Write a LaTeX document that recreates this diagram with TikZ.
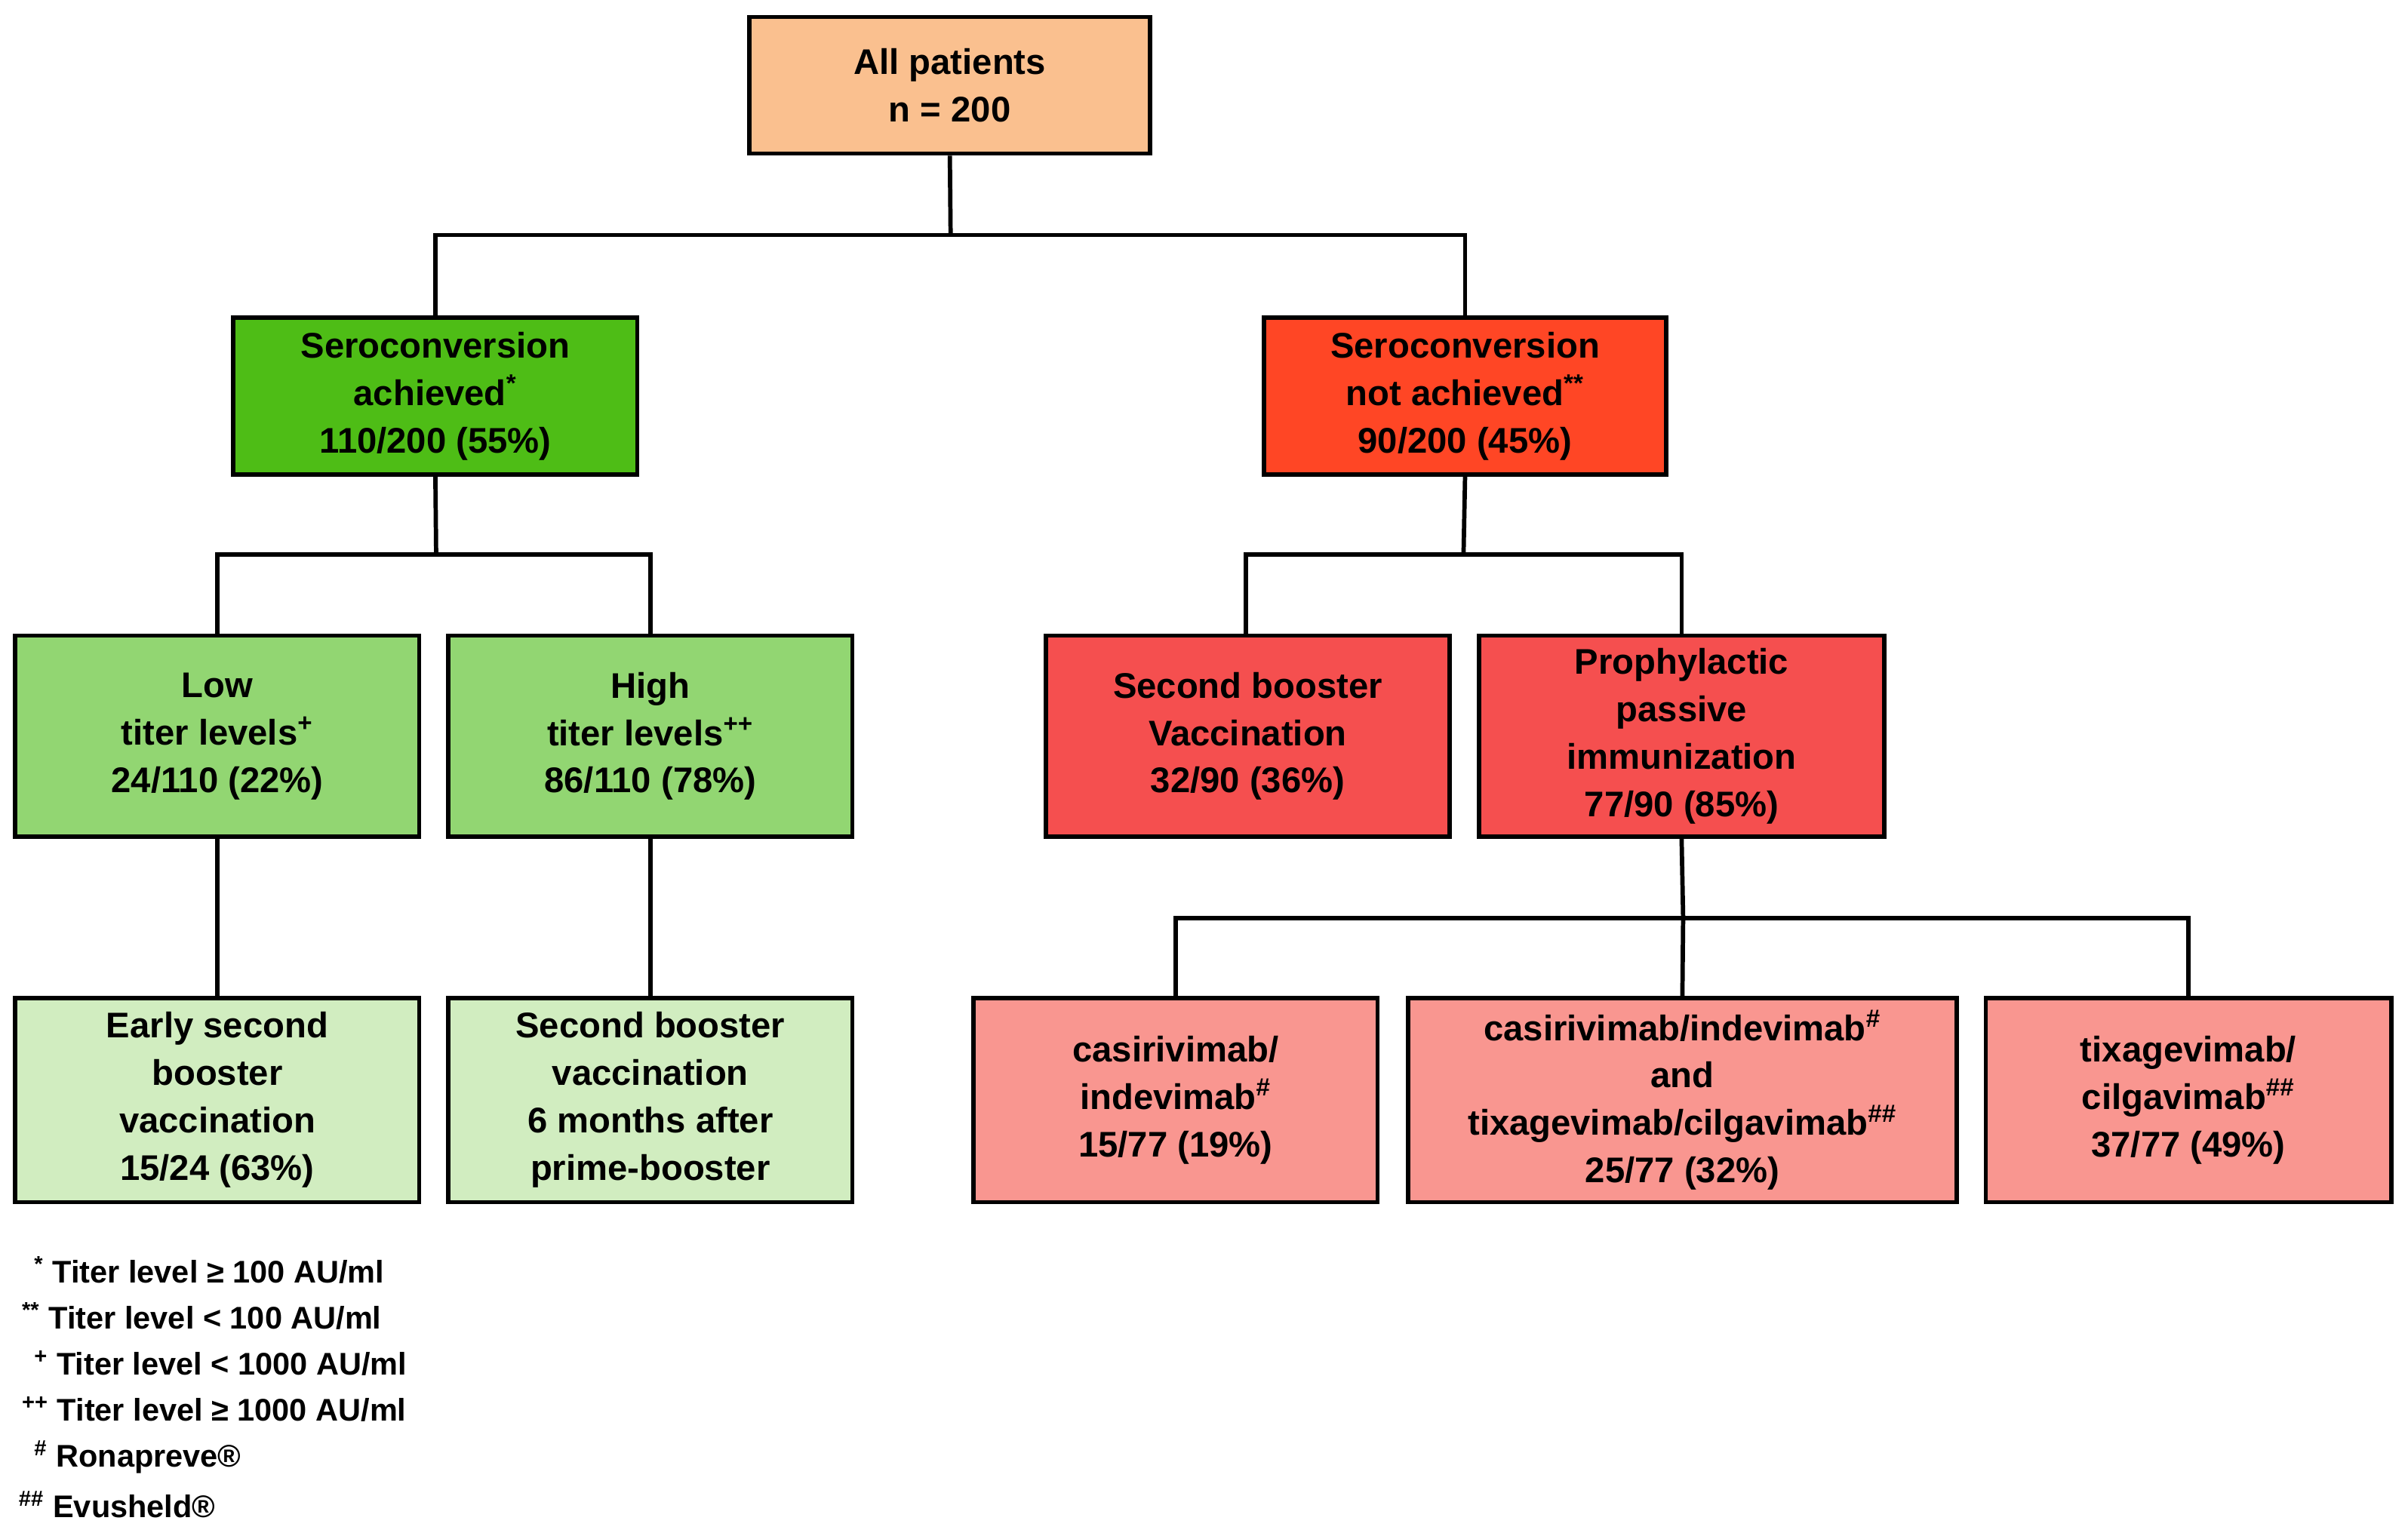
\documentclass[tikz,border=0pt]{standalone}
\usepackage{fontspec}
\setmainfont{Liberation Sans}
\begin{document}
\begin{tikzpicture}[x=0.025cm,y=-0.025cm,
  box/.style={draw=black,line width=2pt,align=center,inner sep=0pt,font=\fontsize{16.5}{22}\selectfont\bfseries},
  ln/.style={line width=2pt},
  fn/.style={anchor=west,inner sep=0pt,font=\fontsize{14.5}{17}\selectfont\bfseries}]
\useasboundingbox (0,0) rectangle (1568,1000);
\definecolor{peach}{HTML}{FAC08F}
\definecolor{gA}{HTML}{4EBD16}
\definecolor{rA}{HTML}{FF4625}
\definecolor{gB}{HTML}{92D672}
\definecolor{rB}{HTML}{F54F4F}
\definecolor{gC}{HTML}{D1EDC0}
\definecolor{rC}{HTML}{F99690}
\newcommand{\bx}[6]{\node[box,fill=#6,minimum width={(#3-#2)*0.025cm},minimum height={(#5-#4)*0.025cm}] (#1) at ({(#2+#3)/2},{(#4+#5)/2})}
\bx{all}{488}{749}{11}{100}{peach} {All patients\\n = 200};
\bx{sa}{152}{415}{207}{309}{gA} {Seroconversion\\achieved\textsuperscript{*}\\110/200 (55\%)};
\bx{sn}{823}{1085}{207}{309}{rA} {Seroconversion\\not achieved\textsuperscript{**}\\90/200 (45\%)};
\bx{low}{10}{273}{414}{545}{gB} {Low\\titer levels\textsuperscript{+}\\24/110 (22\%)};
\bx{high}{292}{555}{414}{545}{gB} {High\\titer levels\textsuperscript{++}\\86/110 (78\%)};
\bx{sb}{681}{944}{414}{545}{rB} {Second booster\\Vaccination\\32/90 (36\%)};
\bx{pp}{963}{1227}{414}{545}{rB} {Prophylactic\\passive\\immunization\\77/90 (85\%)};
\bx{early}{10}{273}{650}{783}{gC} {Early second\\booster\\vaccination\\15/24 (63\%)};
\bx{six}{292}{555}{650}{783}{gC} {Second booster\\vaccination\\6 months after\\prime-booster};
\bx{ci}{634}{897}{650}{783}{rC} {casirivimab/\\indevimab\textsuperscript{\#}\\15/77 (19\%)};
\bx{both}{917}{1274}{650}{783}{rC} {casirivimab/indevimab\textsuperscript{\#}\\and\\tixagevimab/cilgavimab\textsuperscript{\#\#}\\25/77 (32\%)};
\bx{tc}{1293}{1557}{650}{783}{rC} {tixagevimab/\\cilgavimab\textsuperscript{\#\#}\\37/77 (49\%)};
\coordinate (j1) at (619,153);
\coordinate (j2) at (284,361);
\coordinate (j3) at (953,361);
\coordinate (j4) at (1096,598);
\draw[ln] (all.south) -- (j1);
\draw[ln] (j1) -| (sa.north);
\draw[ln] (j1) -| (sn.north);
\draw[ln] (sa.south) -- (j2);
\draw[ln] (j2) -| (low.north);
\draw[ln] (j2) -| (high.north);
\draw[ln] (sn.south) -- (j3);
\draw[ln] (j3) -| ([xshift=-0.8pt]sb.north);
\draw[ln] (j3) -| (pp.north);
\draw[ln] (low.south) -- (early.north);
\draw[ln] (high.south) -- (six.north);
\draw[ln] (pp.south) -- (j4);
\draw[ln] (j4) -| (ci.north);
\draw[ln] (j4) -- (both.north);
\draw[ln] (j4) -| (tc.north);
\node[fn] (f1) at (22,827) {\textsuperscript{*} Titer level ≥ 100 AU/ml};
\node[fn] (f2) at (14,857) {\textsuperscript{**} Titer level < 100 AU/ml};
\node[fn] (f3) at (22,888) {\textsuperscript{+} Titer level < 1000 AU/ml};
\node[fn] (f4) at (14,918) {\textsuperscript{++} Titer level ≥ 1000 AU/ml};
\node[fn] (f5) at (22,949) {\textsuperscript{\#} Ronapreve®};
\node[fn] (f6) at (12,980) {\textsuperscript{\#\#} Evusheld®};
\end{tikzpicture}
\end{document}
